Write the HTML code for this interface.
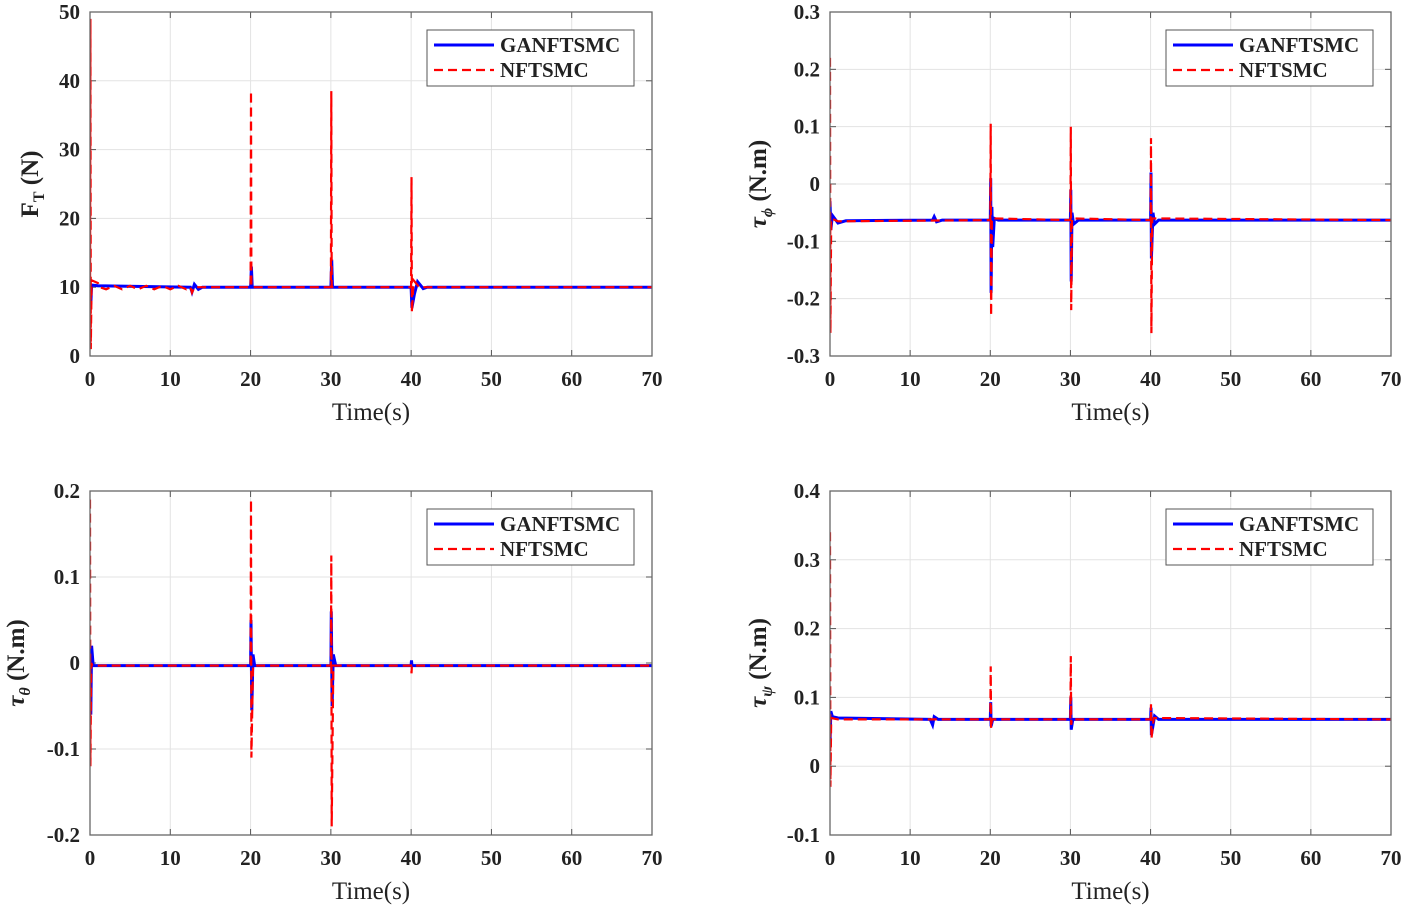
<!DOCTYPE html>
<html><head><meta charset="utf-8">
<style>
html,body{margin:0;padding:0;background:#fff;}
svg{display:block;font-family:"Liberation Serif",serif;}
</style></head>
<body>
<svg id="fig" width="1405" height="907" viewBox="0 0 1405 907" xmlns="http://www.w3.org/2000/svg"></svg>
<script>
// ---- data ----
const xTicks = [0,10,20,30,40,50,60,70];
const ticks1 = [0,10,20,30,40,50];
const ticks2 = [-0.3,-0.2,-0.1,0,0.1,0.2,0.3];
const ticks3 = [-0.2,-0.1,0,0.1,0.2];
const ticks4 = [-0.1,0,0.1,0.2,0.3,0.4];
const gan1 = [[0,10],[0.1,7.5],[0.2,10.3],[1,10.2],[12.5,10],[12.7,9.3],[13,10.4],[13.5,9.7],[14,10],[20,10],[20.1,13],[20.2,10],[30,10],[30.1,14],[30.2,10],[40,10],[40.1,7],[40.4,9],[40.8,10.8],[41.5,9.8],[42,10],[70,10]];
const nft1 = [[0,1],[0.05,49],[0.1,1],[0.2,11],[1,10.6],[1.2,10],[2,9.7],[3,10.2],[4,9.7],[5,10.2],[6,9.7],[7,10.2],[8,9.7],[9,10.2],[10,9.7],[11,10.2],[12,9.7],[12.5,10],[12.7,9.2],[13,10],[20,10],[20.05,38.5],[20.1,10],[30,10],[30.05,38.5],[30.1,10],[40,10],[40.05,26],[40.1,6.3],[40.3,11],[41,10],[70,10]];
const gan2 = [[0,-0.03],[0.1,-0.08],[0.3,-0.055],[1,-0.068],[2,-0.064],[12.8,-0.063],[13,-0.057],[13.3,-0.066],[14,-0.063],[20,-0.063],[20.05,0.01],[20.1,-0.19],[20.2,-0.04],[20.3,-0.11],[20.5,-0.06],[21,-0.063],[30,-0.063],[30.05,-0.01],[30.1,-0.17],[30.2,-0.05],[30.4,-0.07],[31,-0.063],[40,-0.063],[40.05,0.02],[40.1,-0.13],[40.3,-0.05],[40.5,-0.07],[41,-0.063],[70,-0.063]];
const nft2 = [[0,0.22],[0.05,-0.26],[0.15,-0.06],[1,-0.065],[20,-0.063],[20.05,0.105],[20.1,-0.23],[20.2,-0.06],[30,-0.063],[30.05,0.1],[30.1,-0.22],[30.2,-0.06],[40,-0.063],[40.05,0.08],[40.1,-0.26],[40.2,-0.06],[70,-0.063]];
const gan3 = [[0,0],[0.1,-0.06],[0.2,0.02],[0.4,-0.003],[20,-0.003],[20.05,0.05],[20.15,-0.055],[20.3,0.01],[20.5,-0.003],[30,-0.003],[30.05,0.06],[30.15,-0.05],[30.3,0.01],[30.6,-0.003],[40,-0.003],[40.05,0.003],[40.1,-0.003],[70,-0.003]];
const nft3 = [[0,0.19],[0.05,-0.12],[0.15,0],[0.3,-0.003],[20,-0.003],[20.05,0.19],[20.1,-0.11],[20.3,-0.003],[30,-0.003],[30.05,0.125],[30.1,-0.19],[30.3,-0.003],[40,-0.003],[40.05,-0.012],[40.1,-0.003],[70,-0.003]];
const gan4 = [[0,0.03],[0.1,0.08],[0.3,0.072],[1,0.07],[12.5,0.068],[12.8,0.06],[13,0.072],[13.5,0.068],[20,0.068],[20.05,0.093],[20.1,0.058],[20.3,0.068],[30,0.068],[30.05,0.1],[30.1,0.053],[30.3,0.068],[40,0.068],[40.05,0.085],[40.1,0.045],[40.5,0.073],[41,0.068],[70,0.068]];
const nft4 = [[0,0.34],[0.05,-0.03],[0.15,0.07],[1,0.068],[20,0.068],[20.05,0.145],[20.1,0.055],[20.2,0.068],[30,0.068],[30.05,0.16],[30.1,0.06],[30.2,0.068],[40,0.068],[40.05,0.09],[40.1,0.04],[40.4,0.07],[70,0.068]];

const NS="http://www.w3.org/2000/svg";
const svg=document.getElementById('fig');
function el(tag,attrs,parent){const e=document.createElementNS(NS,tag);for(const k in attrs)e.setAttribute(k,attrs[k]);(parent||svg).appendChild(e);return e;}

function panel(id,L,T,R,B,yt,ylo,yhi,gan,nft,ylabelHTML,legX,legY,ylabX){
  const g=el('g',{});
  
  
  const sx=t=>L+(t-0)/(70-0)*(R-L);
  const sy=v=>B-(v-ylo)/(yhi-ylo)*(B-T);
  const fmt=v=>{let s=(Math.round(v*10)/10).toString();return s;};
  xTicks.forEach(t=>{
    const x=sx(t);
    el('line',{x1:x,y1:T,x2:x,y2:B,stroke:'#e3e3e3','stroke-width':1},g);
    el('line',{x1:x,y1:B,x2:x,y2:B-6,stroke:'#555','stroke-width':1},g);
    el('line',{x1:x,y1:T,x2:x,y2:T+6,stroke:'#555','stroke-width':1},g);
    const tx=el('text',{x:x,y:B+30,'text-anchor':'middle','font-size':21,'font-weight':'bold',fill:'#222'},g);
    tx.textContent=t;
    
    
  });
  yt.forEach(v=>{
    const y=sy(v);
    el('line',{x1:L,y1:y,x2:R,y2:y,stroke:'#e3e3e3','stroke-width':1},g);
    el('line',{x1:L,y1:y,x2:L+6,y2:y,stroke:'#555','stroke-width':1},g);
    el('line',{x1:R,y1:y,x2:R-6,y2:y,stroke:'#555','stroke-width':1},g);
    const tx=el('text',{x:L-10,y:y+7,'text-anchor':'end','font-size':21,'font-weight':'bold',fill:'#222'},g);
    tx.textContent=fmt(v);
    
    
  });
  const clip='clip-'+id;
  const cp=el('clipPath',{id:clip},g);el('rect',{x:L,y:T,width:R-L,height:B-T},cp);
  const toPath=arr=>arr.map((p,i)=>(i?'L':'M')+sx(p[0]).toFixed(1)+','+sy(p[1]).toFixed(1)).join('');
  const pb=el('path',{d:toPath(gan),fill:'none',stroke:'#0000ff','stroke-width':3,'clip-path':'url(#'+clip+')'},g);
  
  
  const pr=el('path',{d:toPath(nft),fill:'none',stroke:'#ff0000','stroke-width':2.2,'stroke-dasharray':'9,5','clip-path':'url(#'+clip+')'},g);
  
  
  el('rect',{x:L,y:T,width:R-L,height:B-T,fill:'none',stroke:'#666','stroke-width':1.3},g);
  const xl=el('text',{x:(L+R)/2,y:B+64,'text-anchor':'middle','font-size':25,fill:'#222'},g);
  xl.textContent='Time(s)';
  
  
  const yl=el('text',{x:0,y:0,'text-anchor':'middle','font-size':25,'font-weight':'bold',fill:'#222',transform:`translate(${ylabX},${(T+B)/2}) rotate(-90)`},g);
  yl.innerHTML=ylabelHTML;
  
  
  const lg=el('g',{},g);
  
  
  el('rect',{x:legX,y:legY,width:207,height:56,fill:'#fff',stroke:'#555','stroke-width':1},lg);
  el('line',{x1:legX+7,y1:legY+15,x2:legX+67,y2:legY+15,stroke:'#0000ff','stroke-width':3},lg);
  el('line',{x1:legX+7,y1:legY+40,x2:legX+67,y2:legY+40,stroke:'#ff0000','stroke-width':2.2,'stroke-dasharray':'9,5'},lg);
  const t1=el('text',{x:legX+73,y:legY+22,'font-size':21,'font-weight':'bold',fill:'#222'},lg);t1.textContent='GANFTSMC';
  
  
  const t2=el('text',{x:legX+73,y:legY+47,'font-size':21,'font-weight':'bold',fill:'#222'},lg);t2.textContent='NFTSMC';
  
  
}
panel('panel-thrust',90,12,652,356,ticks1,0,50,gan1,nft1,'F<tspan font-size="16" dy="6">T</tspan><tspan dy="-6">  (N)</tspan>',427,30,38);
panel('panel-tau-phi',830,12,1391,356,ticks2,-0.3,0.3,gan2,nft2,'<tspan font-style="italic">τ</tspan><tspan font-size="16" dy="6" font-style="italic">ϕ</tspan><tspan dy="-6">    (N.m)</tspan>',1166,30,766);
panel('panel-tau-theta',90,491,652,835,ticks3,-0.2,0.2,gan3,nft3,'<tspan font-style="italic">τ</tspan><tspan font-size="16" dy="6" font-style="italic">θ</tspan><tspan dy="-6">    (N.m)</tspan>',427,509,24);
panel('panel-tau-psi',830,491,1391,835,ticks4,-0.1,0.4,gan4,nft4,'<tspan font-style="italic">τ</tspan><tspan font-size="16" dy="6" font-style="italic">ψ</tspan><tspan dy="-6">    (N.m)</tspan>',1166,509,766);
</script>
</body></html>
